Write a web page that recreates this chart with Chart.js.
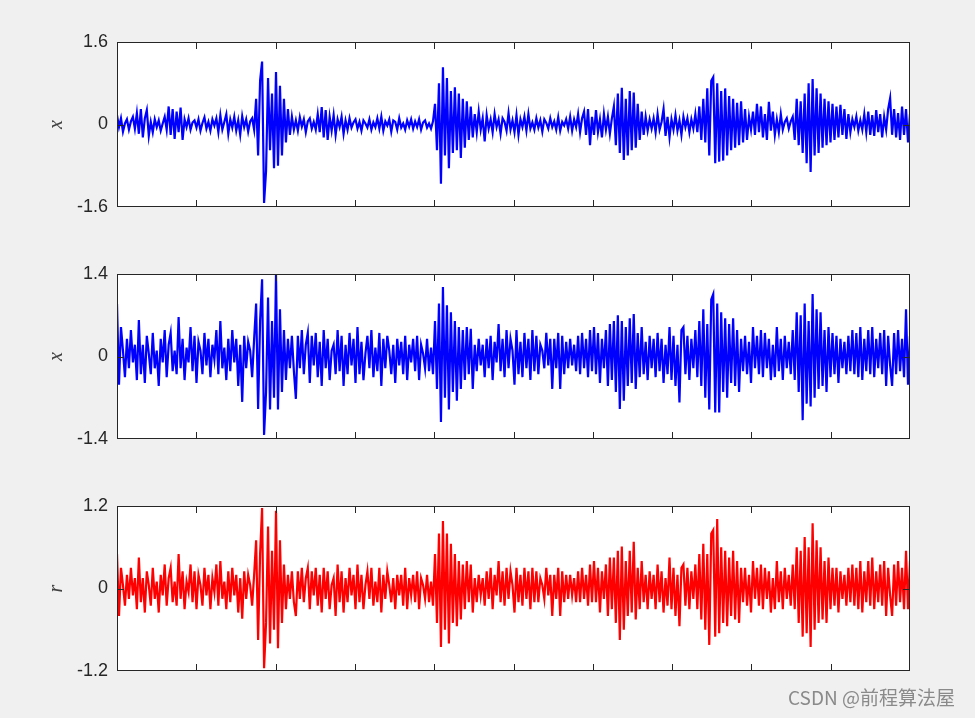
<!DOCTYPE html>
<html>
<head>
<meta charset="utf-8">
<script src="https://cdn.jsdelivr.net/npm/chart.js@4.4.0/dist/chart.umd.min.js"></script>
<style>
  html, body { margin: 0; padding: 0; background: #f0f0f0; }
  body { width: 975px; height: 718px; position: relative; overflow: hidden; }
  .painel { position: absolute; left: 0; width: 975px; height: 205px; }
  .marca { position: absolute; left: 788px; top: 683px; font-family: "Noto Sans CJK SC", sans-serif;
           font-size: 19px; color: #8a8a8a; white-space: nowrap; }
</style>
</head>
<body>
<div class="painel" style="top:22px"><canvas id="grafico-x1"></canvas></div>
<div class="painel" style="top:254px"><canvas id="grafico-x2"></canvas></div>
<div class="painel" style="top:486px"><canvas id="grafico-r"></canvas></div>
<div class="marca">CSDN @前程算法屋</div>

<script>
// Sinal do primeiro painel (x)
const serieX1 = [
  0.18, -0.05, 0.12, -0.14, 0.02, 0.1, -0.1, 0.06, 0.15, -0.08,
  0.22, -0.18, 0.3, -0.25, 0.12, 0.28, -0.22, 0.05, -0.15, 0.1,
  -0.05, 0.08, -0.12, 0.02, 0.15, -0.1, 0.35, -0.2, 0.3, -0.28,
  0.25, -0.15, 0.33, -0.3, 0.1, -0.05, 0.12, -0.1, 0.04, 0.08,
  -0.06, 0.1, -0.12, 0.03, 0.14, -0.08, 0.05, -0.12, 0.1, -0.02,
  0.12, -0.15, 0.18, -0.1, 0.05, 0.2, -0.18, 0.1, -0.06, 0.15,
  -0.12, 0.08, -0.2, 0.16, -0.05, 0.1, -0.14, 0.06, 0.12, -0.1,
  0.5, -0.6, 0.85, 1.22, -1.52, -0.9, 0.9, -0.5, 0.6, -0.85,
  1.02, -0.8, 0.75, -0.6, 0.5, -0.35, 0.3, -0.2, 0.15, -0.1,
  0.08, -0.12, 0.14, -0.04, 0.1, -0.15, 0.06, 0.12, -0.08, 0.05,
  -0.1, 0.2, -0.15, 0.34, -0.25, 0.28, -0.3, 0.15, -0.12, 0.18,
  -0.2, 0.1, -0.05, 0.15, -0.18, 0.08, -0.1, 0.12, -0.06, 0.04,
  0.1, -0.08, 0.05, -0.12, 0.08, 0.02, -0.06, 0.1, -0.1, 0.04,
  -0.05, 0.12, -0.08, 0.15, -0.12, 0.06, -0.02, 0.1, -0.14, 0.08,
  0.05, -0.1, 0.12, -0.06, 0.02, -0.1, 0.08, -0.04, 0.1, -0.08,
  0.06, -0.05, 0.1, -0.1, 0.04, 0.08, -0.06, 0.02, -0.08, 0.06,
  0.4, -0.5, 0.8, -1.15, 1.11, -0.6, 0.9, -0.85, 0.65, -0.55,
  0.72, -0.5, 0.6, -0.65, 0.5, -0.45, 0.45, -0.3, 0.35, -0.25,
  0.2, -0.15, 0.25, -0.1, 0.12, -0.33, 0.18, -0.08, 0.1, -0.15,
  0.2, -0.05, 0.1, -0.18, 0.12, 0.05, -0.12, 0.22, -0.1, 0.08,
  -0.15, 0.18, -0.2, 0.1, -0.05, 0.15, -0.12, 0.2, -0.08, 0.04,
  -0.1, 0.12, -0.06, 0.08, -0.14, 0.1, 0.03, -0.08, 0.12, -0.05,
  0.06, -0.1, 0.14, -0.12, 0.05, -0.02, 0.1, -0.08, 0.15, -0.12,
  0.1, -0.05, 0.2, -0.15, 0.12, 0.25, -0.2, 0.3, -0.4, 0.15,
  -0.2, 0.28, -0.15, 0.1, -0.25, 0.2, -0.1, 0.15, -0.18, 0.12,
  0.35, -0.4, 0.6, -0.55, 0.71, -0.69, 0.5, -0.6, 0.65, -0.5,
  0.62, -0.45, 0.4, -0.3, 0.25, -0.2, 0.15, -0.12, 0.1, -0.08,
  0.12, -0.15, 0.2, -0.1, 0.05, 0.3, -0.22, 0.15, -0.25, 0.1,
  -0.1, 0.18, -0.12, 0.08, -0.2, 0.15, -0.05, 0.12, -0.15, 0.1,
  -0.08, 0.2, -0.15, 0.35, -0.3, 0.5, -0.35, 0.7, -0.6, 0.85,
  0.92, -0.75, 0.8, -0.72, 0.65, -0.7, 0.7, -0.6, 0.55, -0.5,
  0.5, -0.45, 0.42, -0.4, 0.45, -0.35, 0.3, -0.3, 0.15, -0.1,
  0.25, -0.2, 0.4, -0.15, 0.35, -0.25, 0.2, -0.3, 0.44, -0.12,
  0.25, -0.2, 0.1, -0.15, 0.2, -0.1, 0.05, 0.12, -0.08, 0.06,
  0.15, -0.3, 0.5, -0.4, 0.45, -0.55, 0.6, -0.75, 0.8, -0.92,
  0.88, -0.6, 0.7, -0.55, 0.6, -0.45, 0.5, -0.4, 0.45, -0.35,
  0.4, -0.3, 0.35, -0.25, 0.38, -0.2, 0.3, -0.28, 0.2, -0.15,
  0.1, -0.05, 0.15, -0.12, 0.08, -0.1, 0.2, -0.15, 0.25, -0.2,
  0.18, -0.22, 0.28, -0.15, 0.2, -0.25, 0.15, -0.1, 0.3, 0.51,
  -0.2, 0.3, -0.25, 0.22, -0.3, 0.35, -0.2, 0.3, -0.35, 0.2
];

// Sinal do segundo painel (x)
const serieX2 = [
  0.89, -0.48, 0.5, 0.1, -0.35, 0.3, -0.2, 0.45, -0.1, 0.2,
  -0.4, 0.62, -0.3, 0.2, -0.45, 0.35, 0.05, -0.3, 0.4, -0.2,
  0.1, -0.5, 0.3, -0.1, 0.45, -0.35, 0.2, 0.4, -0.25, 0.1,
  -0.3, 0.67, -0.2, 0.3, -0.4, 0.15, -0.1, 0.5, -0.25, 0.35,
  -0.45, 0.25, 0.1, -0.3, 0.4, -0.15, 0.3, -0.35, 0.2, -0.05,
  0.45, -0.3, 0.6, -0.2, 0.15, -0.4, 0.3, -0.25, 0.45, -0.1,
  0.3, -0.5, 0.2, -0.77, 0.35, -0.2, 0.25, 0.1, -0.35, 0.3,
  0.9, -0.89, 0.6, 1.31, -1.33, -0.6, 1.0, -0.9, 0.6, -0.7,
  1.39, -0.9, 0.8, -0.6, 0.45, -0.4, 0.3, -0.2, 0.35, -0.25,
  -0.72, 0.35, -0.2, 0.45, -0.3, 0.2, 0.4, -0.45, 0.35, -0.15,
  0.4, -0.35, 0.25, -0.5, 0.45, -0.2, 0.3, -0.4, 0.1, 0.2,
  -0.3, 0.45, -0.25, 0.35, -0.5, 0.2, -0.3, 0.4, -0.15, 0.3,
  -0.45, 0.5, -0.3, 0.25, -0.4, 0.05, 0.35, -0.2, 0.45, -0.35,
  0.15, -0.25, 0.4, -0.5, 0.3, -0.2, 0.35, 0.1, -0.3, 0.2,
  -0.45, 0.3, -0.15, 0.25, -0.3, 0.35, -0.4, 0.2, -0.1, 0.3,
  -0.25, 0.35, -0.4, 0.2, 0.05, -0.2, 0.3, -0.25, 0.15, -0.3,
  0.6, -0.55, 0.9, -1.11, 1.18, -0.7, 0.87, -0.9, 0.75, -0.6,
  0.6, -0.75, 0.5, -0.55, 0.45, -0.4, 0.5, -0.3, 0.47, -0.55,
  0.2, -0.25, 0.3, -0.15, 0.2, -0.35, 0.3, -0.2, 0.35, -0.4,
  0.25, -0.1, 0.55, -0.25, 0.3, -0.35, 0.45, -0.2, 0.3, 0.1,
  -0.48, 0.45, -0.3, 0.25, -0.35, 0.4, -0.2, 0.3, -0.4, 0.45,
  -0.25, 0.35, -0.3, 0.2, 0.1, -0.2, 0.4, -0.15, 0.3, -0.55,
  0.3, -0.2, 0.4, -0.55, 0.35, -0.3, 0.25, -0.2, 0.3, -0.15,
  0.2, -0.25, 0.35, -0.3, 0.4, -0.2, 0.3, -0.35, 0.45, -0.25,
  0.5, -0.3, 0.4, -0.45, 0.3, -0.2, 0.45, -0.5, 0.55, -0.4,
  0.6, -0.6, 0.7, -0.89, 0.6, -0.75, 0.5, -0.5, 0.65, -0.45,
  0.72, -0.55, 0.4, -0.35, 0.5, -0.3, 0.25, -0.4, 0.35, -0.2,
  0.3, -0.35, 0.4, -0.25, 0.3, -0.45, 0.2, -0.3, 0.5, -0.4,
  0.35, -0.5, 0.2, -0.78, 0.45, 0.5, -0.3, 0.35, -0.4, 0.3,
  -0.2, 0.45, -0.35, 0.6, -0.5, 0.8, -0.7, 0.55, -0.9, 0.97,
  1.06, -0.95, 0.9, -0.95, 0.75, -0.6, 0.65, -0.7, 0.55, -0.45,
  0.65, -0.5, 0.45, -0.6, 0.3, -0.25, 0.35, -0.3, 0.25, -0.45,
  0.5, -0.2, 0.35, -0.3, 0.45, -0.35, 0.4, -0.2, 0.3, -0.4,
  0.2, -0.35, 0.5, -0.25, 0.3, -0.4, 0.35, -0.2, 0.25, -0.3,
  0.45, -0.4, 0.75, -0.6, 0.7, -1.08, 0.9, -0.8, 0.6, -0.85,
  1.06, -0.7, 0.8, -0.55, 0.75, -0.5, 0.45, -0.6, 0.5, -0.35,
  0.4, -0.3, 0.35, -0.45, 0.3, -0.2, 0.25, -0.3, 0.35, -0.25,
  0.45, -0.3, 0.4, -0.35, 0.5, -0.4, 0.3, -0.25, 0.45, -0.3,
  0.5, -0.35, 0.3, -0.2, 0.4, -0.3, 0.45, -0.5, 0.35, -0.15,
  -0.5, 0.4, -0.3, 0.45, -0.25, 0.3, -0.35, 0.8, -0.48, 0.35
];

// Sinal do terceiro painel (r)
const serieR = [
  0.5, -0.4, 0.3, 0.05, -0.25, 0.2, -0.15, 0.3, -0.1, 0.15,
  -0.3, 0.45, -0.2, 0.15, -0.35, 0.25, 0.05, -0.25, 0.3, -0.15,
  0.1, -0.35, 0.2, -0.1, 0.35, -0.25, 0.15, 0.3, -0.2, 0.1,
  -0.25, 0.5, -0.15, 0.25, -0.3, 0.1, -0.05, 0.35, -0.2, 0.25,
  -0.3, 0.2, 0.05, -0.25, 0.3, -0.1, 0.2, -0.3, 0.15, -0.05,
  0.35, -0.25, 0.4, -0.15, 0.1, -0.3, 0.25, -0.2, 0.3, -0.1,
  0.2, -0.35, 0.15, -0.44, 0.25, -0.15, 0.2, 0.05, -0.25, 0.2,
  0.7, -0.75, 0.5, 1.17, -1.16, -0.5, 0.9, -0.8, 0.55, -0.6,
  1.13, -0.87, 0.7, -0.5, 0.35, -0.3, 0.2, -0.15, 0.25, -0.2,
  -0.4, 0.25, -0.15, 0.3, -0.2, 0.15, 0.3, -0.3, 0.25, -0.1,
  0.3, -0.25, 0.2, -0.35, 0.3, -0.15, 0.25, -0.3, 0.05, 0.15,
  -0.4, 0.35, -0.2, 0.25, -0.35, 0.15, -0.2, 0.3, -0.1, 0.2,
  -0.3, 0.35, -0.2, 0.2, -0.3, 0.05, 0.25, -0.15, 0.3, -0.25,
  0.1, -0.2, 0.3, -0.35, 0.2, -0.15, 0.25, 0.05, -0.2, 0.15,
  -0.3, 0.2, -0.1, 0.2, -0.25, 0.3, -0.3, 0.15, -0.1, 0.2,
  -0.2, 0.25, -0.3, 0.15, 0.05, -0.15, 0.2, -0.2, 0.1, -0.25,
  0.5, -0.5, 0.8, -0.85, 0.98, -0.6, 0.8, -0.8, 0.65, -0.5,
  0.5, -0.55, 0.4, -0.45, 0.35, -0.3, 0.4, -0.2, 0.35, -0.35,
  0.15, -0.2, 0.2, -0.1, 0.15, -0.25, 0.25, -0.15, 0.3, -0.3,
  0.2, -0.1, 0.4, -0.2, 0.25, -0.25, 0.3, -0.15, 0.25, 0.05,
  -0.35, 0.3, -0.2, 0.2, -0.25, 0.3, -0.15, 0.25, -0.3, 0.3,
  -0.2, 0.25, -0.2, 0.15, 0.05, -0.15, 0.3, -0.1, 0.2, -0.4,
  0.2, -0.15, 0.3, -0.4, 0.25, -0.2, 0.2, -0.15, 0.2, -0.1,
  0.15, -0.2, 0.25, -0.2, 0.3, -0.15, 0.2, -0.25, 0.35, -0.2,
  0.4, -0.2, 0.3, -0.35, 0.25, -0.15, 0.35, -0.4, 0.45, -0.3,
  0.45, -0.5, 0.55, -0.75, 0.61, -0.6, 0.4, -0.4, 0.55, -0.35,
  0.68, -0.45, 0.3, -0.3, 0.4, -0.2, 0.2, -0.3, 0.25, -0.15,
  0.2, -0.3, 0.35, -0.2, 0.25, -0.35, 0.15, -0.25, 0.45, -0.3,
  0.3, -0.4, 0.2, -0.55, 0.3, 0.35, -0.25, 0.3, -0.3, 0.25,
  -0.15, 0.35, -0.3, 0.5, -0.45, 0.65, -0.6, 0.5, -0.82, 0.8,
  0.85, -0.7, 1.01, -0.65, 0.6, -0.5, 0.55, -0.55, 0.45, -0.4,
  0.55, -0.45, 0.4, -0.5, 0.3, -0.2, 0.3, -0.25, 0.2, -0.35,
  0.4, -0.15, 0.3, -0.25, 0.35, -0.3, 0.3, -0.15, 0.25, -0.35,
  0.15, -0.3, 0.4, -0.2, 0.25, -0.3, 0.3, -0.15, 0.2, -0.25,
  0.35, -0.3, 0.6, -0.5, 0.55, -0.7, 0.75, -0.65, 0.6, -0.85,
  0.95, -0.6, 0.7, -0.5, 0.6, -0.45, 0.4, -0.5, 0.45, -0.3,
  0.3, -0.25, 0.3, -0.35, 0.25, -0.15, 0.2, -0.25, 0.3, -0.2,
  0.35, -0.25, 0.3, -0.3, 0.4, -0.35, 0.25, -0.2, 0.4, -0.25,
  0.45, -0.3, 0.25, -0.2, 0.35, -0.25, 0.4, -0.4, 0.3, -0.1,
  -0.4, 0.35, -0.25, 0.4, -0.2, 0.3, -0.3, 0.55, -0.3, 0.4
];

// Eixo horizontal (amostras) e marcas
const passoAmostra = 1000 / (serieX1.length - 1);
const ticksX = [0, 100, 200, 300, 400, 500, 600, 700, 800, 900, 1000];

// Marcas e rótulos do eixo vertical de cada painel
const ticksX1 = [-1.6, 0, 1.6];
const rotulosX1 = ['-1.6', '0', '1.6'];
const ticksX2 = [-1.4, 0, 1.4];
const rotulosX2 = ['-1.4', '0', '1.4'];
const ticksR = [-1.2, 0, 1.2];
const rotulosR = ['-1.2', '0', '1.2'];

// Plugin: fundo branco, moldura e marcas para dentro (estilo MATLAB)
const molduraPlugin = {
    id: 'moldura',
    beforeDraw(chart) {
        const { ctx, chartArea: a } = chart;
        ctx.save();
        ctx.fillStyle = '#ffffff';
        ctx.fillRect(a.left, a.top, a.width, a.height);
        ctx.restore();
    },
    afterDatasetsDraw(chart, args, opts) {
        const { ctx, chartArea: a, scales: { x, y } } = chart;
        const tam = 7;
        const internos = lista => lista.slice(1, -1); // as pontas coincidem com a moldura
        ctx.save();
        ctx.strokeStyle = '#262626';
        ctx.lineWidth = 1;
        ctx.beginPath();
        internos(opts.marcasX).forEach(v => {
            const px = Math.round(x.getPixelForValue(v)) + 0.5;
            ctx.moveTo(px, a.top); ctx.lineTo(px, a.top + tam);
            ctx.moveTo(px, a.bottom); ctx.lineTo(px, a.bottom - tam);
        });
        internos(opts.marcasY).forEach(v => {
            const py = Math.round(y.getPixelForValue(v)) + 0.5;
            ctx.moveTo(a.left, py); ctx.lineTo(a.left + tam, py);
            ctx.moveTo(a.right, py); ctx.lineTo(a.right - tam, py);
        });
        ctx.stroke();
        ctx.strokeRect(Math.round(a.left) + 0.5, Math.round(a.top) + 0.5,
                       Math.round(a.width) - 1, Math.round(a.height) - 1);
        ctx.restore();
    }
};

// Função para criar cada painel
function criarPainel(id, serie, cor, marcasY, rotulosY, nome) {
    const ctx = document.getElementById(id).getContext('2d');
    const pontos = serie.map((v, i) => ({ x: i * passoAmostra, y: v }));
    return new Chart(ctx, {
        type: 'line',
        data: {
            datasets: [{
                data: pontos,
                borderColor: cor,
                borderWidth: 2.2,
                pointRadius: 0,
                tension: 0,
                fill: false
            }]
        },
        options: {
            responsive: true,
            maintainAspectRatio: false,
            animation: false,
            events: [],
            layout: { padding: { top: 20, bottom: 20, left: 0, right: 65 } },
            plugins: {
                legend: { display: false },
                tooltip: { enabled: false },
                moldura: { marcasX: ticksX, marcasY: marcasY }
            },
            scales: {
                x: {
                    type: 'linear',
                    min: ticksX[0],
                    max: ticksX[ticksX.length - 1],
                    display: false
                },
                y: {
                    type: 'linear',
                    min: marcasY[0],
                    max: marcasY[marcasY.length - 1],
                    afterBuildTicks: s => { s.ticks = marcasY.map(v => ({ value: v })); },
                    afterFit: s => { s.width = 117; },
                    grid: { display: false, drawTicks: false },
                    border: { display: false },
                    ticks: {
                        padding: 9,
                        color: '#262626',
                        font: { family: '"Liberation Sans", Arial, sans-serif', size: 18 },
                        callback: (v, i) => rotulosY[i]
                    },
                    title: {
                        display: true,
                        text: nome,
                        color: '#404040',
                        padding: { top: 45, bottom: 0 },
                        font: { family: '"Liberation Serif", "DejaVu Serif", serif', style: 'italic', size: 20 }
                    }
                }
            }
        },
        plugins: [molduraPlugin]
    });
}

criarPainel('grafico-x1', serieX1, '#0000ff', ticksX1, rotulosX1, 'x');
criarPainel('grafico-x2', serieX2, '#0000ff', ticksX2, rotulosX2, 'x');
criarPainel('grafico-r', serieR, '#ff0000', ticksR, rotulosR, 'r');
</script>
</body>
</html>
